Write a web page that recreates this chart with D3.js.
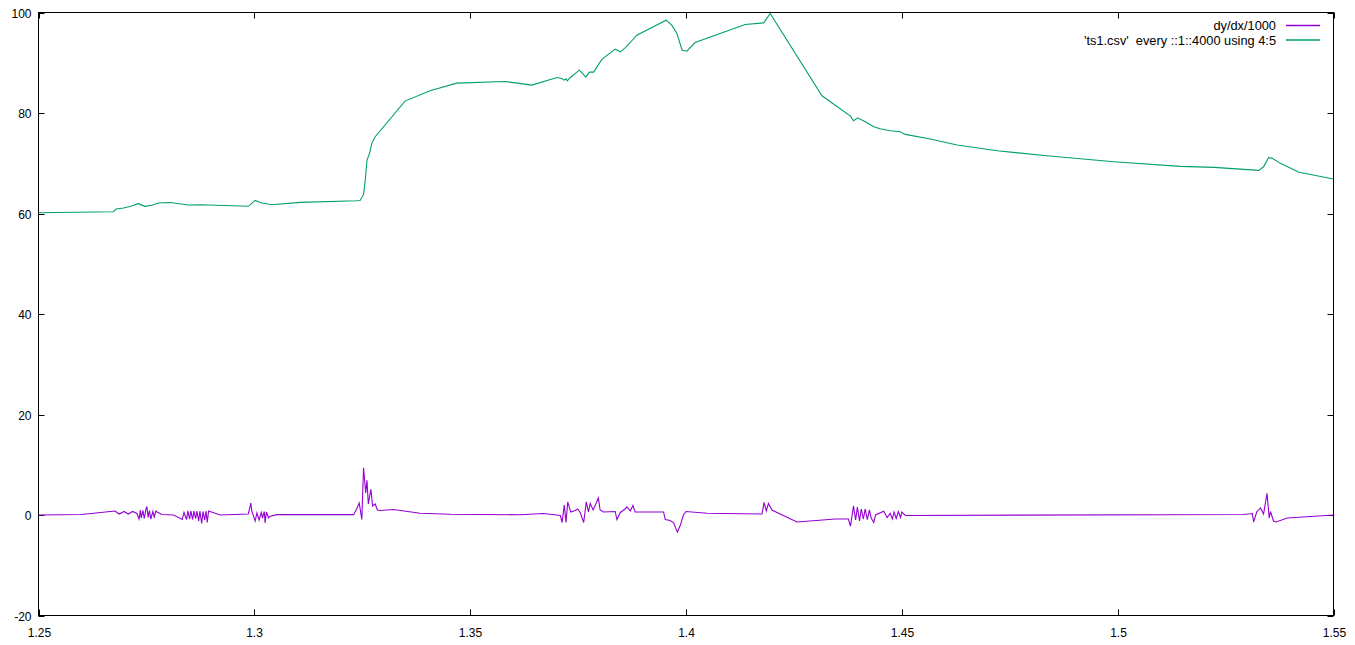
<!DOCTYPE html>
<html><head><meta charset="utf-8">
<script src="https://cdn.jsdelivr.net/npm/d3@7"></script>
<style>body{margin:0;background:#fff}svg{display:block}text{font-family:"Liberation Sans",Arial,sans-serif;font-size:12px;fill:#000;white-space:pre}</style>
</head><body>
<script>
const xTicks = [1.25,1.3,1.35,1.4,1.45,1.5,1.55];
const xTickLabels = ["1.25","1.3","1.35","1.4","1.45","1.5","1.55"];
const yTicks = [-20,0,20,40,60,80,100];
const legendLabels = ["dy/dx/1000","'ts1.csv'  every ::1::4000 using 4:5"];
const seriesColors = ["#9400d3","#009e73"];

const tsX = [1.2500,1.2673,1.2680,1.2697,1.2716,1.2731,1.2747,1.2762,1.2778,1.2805,1.2847,1.2874,1.2986,1.3002,1.3017,1.3040,1.3106,1.3237,1.3245,1.3253,1.3257,1.3261,1.3267,1.3272,1.3280,1.3349,1.3407,1.3469,1.3581,1.3643,1.3701,1.3712,1.3718,1.3722,1.3725,1.3732,1.3753,1.3768,1.3776,1.3786,1.3805,1.3836,1.3848,1.3859,1.3871,1.3886,1.3954,1.3967,1.3979,1.3991,1.4002,1.4021,1.4137,1.4180,1.4195,1.4315,1.4381,1.4388,1.4398,1.4415,1.4435,1.4450,1.4473,1.4496,1.4508,1.4566,1.4628,1.4721,1.4836,1.4991,1.5145,1.5223,1.5327,1.5338,1.5350,1.5358,1.5377,1.5420,1.5500];
const tsY = [60.16,60.36,60.9,61.1,61.5,61.95,61.43,61.63,62.09,62.2,61.68,61.75,61.43,62.6,62.09,61.75,62.22,62.55,62.6,63.8,66.66,70.64,71.97,73.96,75.27,82.37,84.41,85.94,86.28,85.55,87.07,86.87,86.54,86.8,86.4,87.07,88.53,87.14,88.13,88.13,90.66,92.70,92.17,92.96,94.03,95.49,98.47,97.47,95.82,92.5,92.3,94.03,97.61,97.94,99.8,83.42,79.38,78.45,79.05,78.25,77.26,76.86,76.46,76.26,75.74,74.81,73.62,72.49,71.49,70.30,69.38,69.18,68.59,69.30,71.17,70.97,69.98,68.19,66.86];

const dX = [1.2500,1.2600,1.2677,1.2687,1.2698,1.2708,1.2718,1.2728,1.2733,1.2736,1.2738,1.2742,1.2745,1.2749,1.2751,1.2754,1.2757,1.2760,1.2765,1.2768,1.2772,1.2775,1.2786,1.2813,1.2833,1.2837,1.2843,1.2846,1.2850,1.2853,1.2857,1.2860,1.2864,1.2867,1.2871,1.2874,1.2878,1.2881,1.2885,1.2888,1.2891,1.2894,1.2921,1.2986,1.2992,1.2994,1.3002,1.3006,1.3011,1.3016,1.3019,1.3023,1.3025,1.3028,1.3033,1.3036,1.3052,1.3230,1.3237,1.3243,1.3249,1.3253,1.3258,1.3261,1.3264,1.3270,1.3274,1.3280,1.3285,1.3291,1.3322,1.3384,1.3454,1.3616,1.3670,1.3709,1.3713,1.3718,1.3722,1.3726,1.3733,1.3743,1.3749,1.3755,1.3763,1.3769,1.3774,1.3778,1.3785,1.3797,1.3801,1.3809,1.3836,1.3840,1.3848,1.3859,1.3863,1.3871,1.3877,1.3882,1.3948,1.3952,1.3963,1.3971,1.3980,1.3987,1.3994,1.4000,1.4049,1.4176,1.4181,1.4186,1.4191,1.4199,1.4257,1.4346,1.4376,1.4381,1.4388,1.4393,1.4397,1.4402,1.4406,1.4411,1.4415,1.4420,1.4425,1.4429,1.4435,1.4439,1.4458,1.4466,1.4473,1.4478,1.4482,1.4487,1.4492,1.4497,1.4500,1.4508,1.5292,1.5312,1.5315,1.5322,1.5331,1.5338,1.5346,1.5351,1.5354,1.5361,1.5367,1.5393,1.5502];
const dY = [0,0.1,0.8,0.2,0.7,0.2,0.7,0.3,-0.8,1.0,-0.6,0.9,-0.7,1.2,1.7,-0.5,0.9,-0.8,0.7,-0.4,0.8,0.6,0.1,0,-0.9,0.5,-0.9,0.8,-0.8,0.8,-0.9,0.8,-0.7,0.8,-1.2,0.8,-1.7,0.7,-1.0,0.8,-1.5,0.8,0,0.2,2.4,0.8,-1.2,0.4,-1.0,0.5,-0.6,0.7,-1.6,0.6,-0.6,-0.3,0.07,0.07,1.2,2.4,-0.9,9.4,4.4,6.9,2.2,5.1,1.8,2.2,1.0,0.9,1.1,0.35,0.15,0.05,0.3,-0.1,-1.5,2.0,-1.5,2.6,0.6,0.9,1.2,0.5,-1.5,2.6,0.6,2.3,1.0,3.4,1.0,0.6,0.7,-0.9,0.5,1.2,1.6,0.8,1.9,0.6,0.6,-0.9,-1.1,-1.5,-3.4,-2.0,0.0,0.7,0.35,0.2,2.5,0.8,2.3,1.0,-1.4,-0.8,-0.8,-2.2,1.8,-1.0,1.6,-1.2,1.2,-0.8,1.2,-0.9,1.0,-0.6,-1.5,0.0,0.73,-0.5,0.3,-0.8,0.6,-0.7,0.7,-0.5,0.6,-0.1,0.1,0.3,-1.4,0.6,1.4,0.2,4.3,-0.6,0.7,-1.2,-1.4,-0.6,0];

const W = 1355, H = 645;
const m = {left:38.5, right:1333.5, top:12.5, bottom:615.5};
const svg = d3.select("body").append("svg").attr("width",W).attr("height",H);
const x = d3.scaleLinear().domain([1.25,1.55]).range([m.left,m.right]);
const y = d3.scaleLinear().domain([-20,100]).range([m.bottom,m.top]);

const g = svg.append("g");
const tl = 6;
yTicks.forEach(v=>{
  const yy = Math.round(y(v))+0.5;
  g.append("line").attr("x1",m.left).attr("x2",m.left+tl).attr("y1",yy).attr("y2",yy).attr("stroke","#000");
  g.append("line").attr("x1",m.right).attr("x2",m.right-tl).attr("y1",yy).attr("y2",yy).attr("stroke","#000");
  g.append("text").attr("x",m.left-7).attr("y",yy+4).attr("text-anchor","end").text(v);
});
xTicks.forEach((v,i)=>{
  const xx = Math.round(x(v))+0.5;
  g.append("line").attr("x1",xx).attr("x2",xx).attr("y1",m.bottom).attr("y2",m.bottom-tl).attr("stroke","#000");
  g.append("line").attr("x1",xx).attr("x2",xx).attr("y1",m.top).attr("y2",m.top+tl).attr("stroke","#000");
  g.append("text").attr("x",xx).attr("y",m.bottom+21).attr("text-anchor","middle").text(xTickLabels[i]);
});

const line = d3.line().x(d=>x(d[0])).y(d=>y(d[1]));
svg.append("path").datum(dX.map((v,i)=>[v,dY[i]])).attr("d",line).attr("fill","none").attr("stroke",seriesColors[0]).attr("stroke-width",1.1);
svg.append("path").datum(tsX.map((v,i)=>[v,tsY[i]])).attr("d",line).attr("fill","none").attr("stroke",seriesColors[1]).attr("stroke-width",1.1);

svg.append("rect").attr("x",m.left).attr("y",m.top).attr("width",m.right-m.left).attr("height",m.bottom-m.top).attr("fill","none").attr("stroke","#000");

legendLabels.forEach((t,i)=>{
  const ly = 25.5 + i*14.5;
  svg.append("text").attr("x",1276).attr("y",ly+4.5).attr("text-anchor","end").style("font-size","12.8px").text(t);
  svg.append("line").attr("x1",1286).attr("x2",1320).attr("y1",ly).attr("y2",ly).attr("stroke",seriesColors[i]).attr("stroke-width",1.3);
});
</script>
</body></html>
